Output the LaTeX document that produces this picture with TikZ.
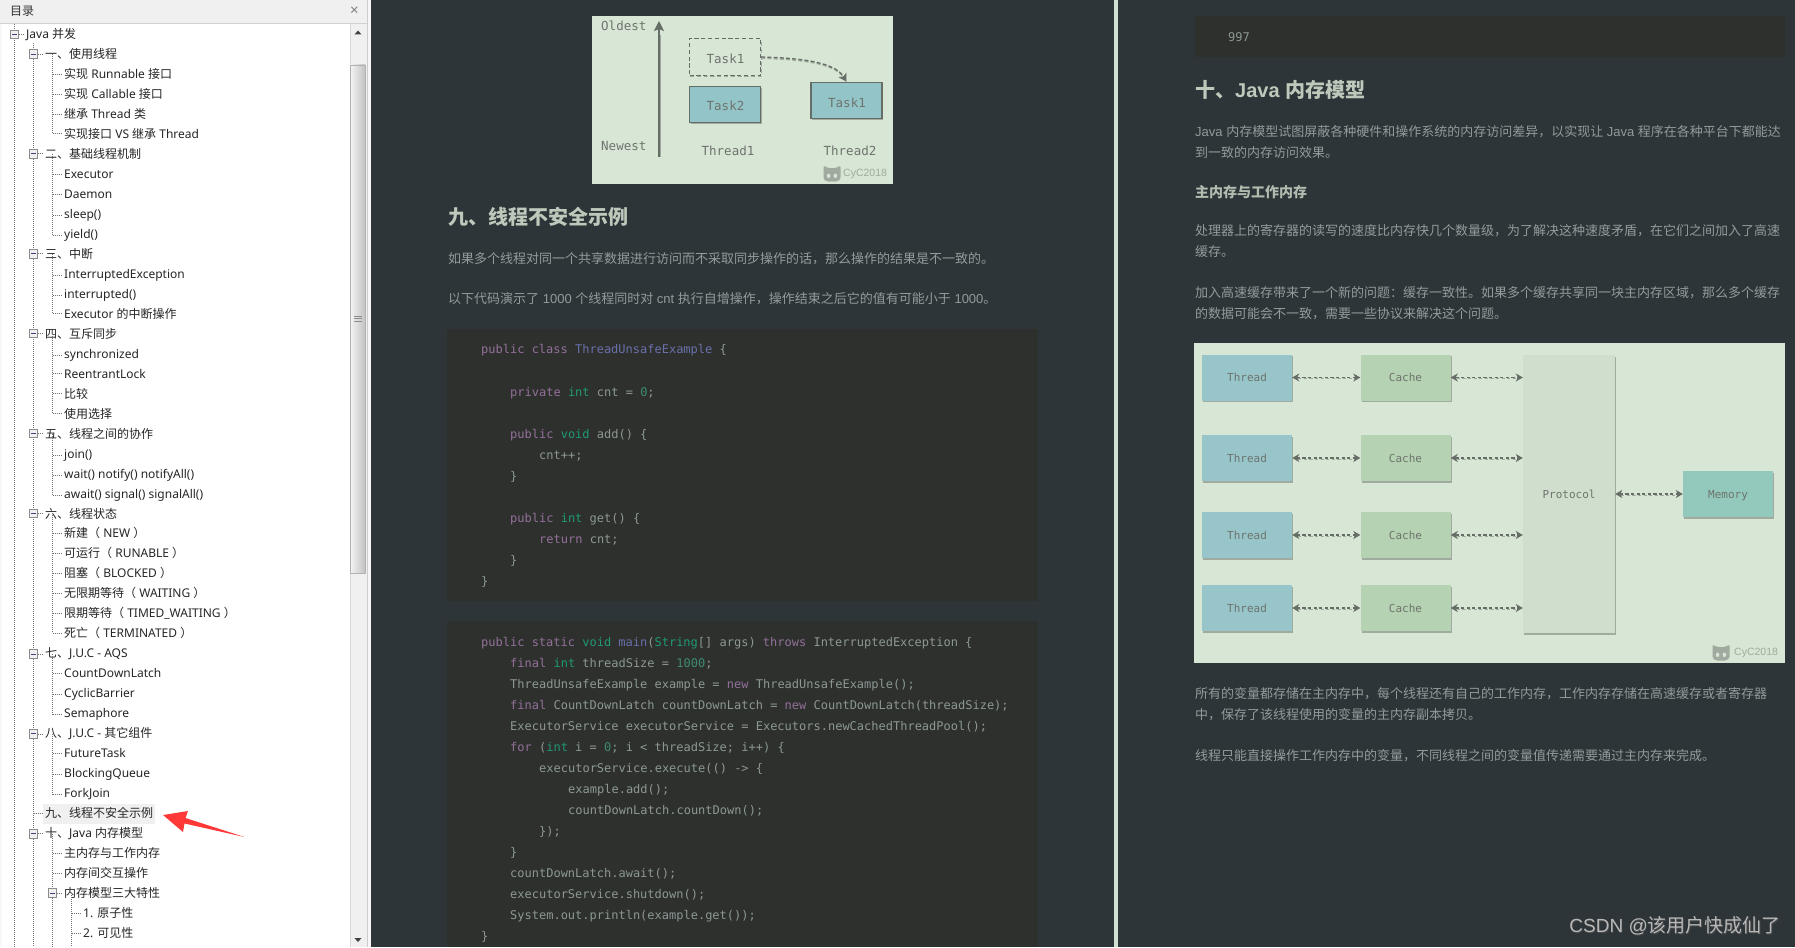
\documentclass[tikz,border=0pt]{standalone}
\usepackage{fontspec}
\usetikzlibrary{arrows.meta,shadows}
\setmainfont{Noto Sans}
\newfontfamily\cjk{Noto Sans CJK SC}
\newfontfamily\helv{Liberation Sans}
\newfontfamily\monof{DejaVu Sans Mono}
\newcommand\zh[1]{{\cjk #1}}
\definecolor{pagebg}{HTML}{2D3538}
\definecolor{codebg}{HTML}{2E302D}
\definecolor{paratx}{HTML}{929C9A}
\definecolor{headtx}{HTML}{BEC8BB}
\definecolor{subtx}{HTML}{B2BCAF}
\definecolor{imgbg}{HTML}{D8E6D6}
\definecolor{dividc}{HTML}{CFE2D2}
\definecolor{taskc}{HTML}{93C4C8}
\definecolor{threadc}{HTML}{97C5CA}
\definecolor{cachec}{HTML}{B5D2B2}
\definecolor{protoc}{HTML}{D0DECD}
\definecolor{memc}{HTML}{93C9BC}
\definecolor{shadc}{HTML}{A1AA9E}
\definecolor{dtext}{HTML}{6E746D}
\definecolor{dline}{HTML}{666C66}
\definecolor{ckw}{HTML}{93709A}
\definecolor{cty}{HTML}{1F9A74}
\definecolor{cnm}{HTML}{6A70AC}
\definecolor{cnu}{HTML}{3F8A72}
\definecolor{cdf}{HTML}{8C9894}
\newcommand\cK[1]{\textcolor{ckw}{#1}}
\newcommand\cT[1]{\textcolor{cty}{#1}}
\newcommand\cN[1]{\textcolor{cnm}{#1}}
\newcommand\cU[1]{\textcolor{cnu}{#1}}
\tikzset{
 tocrow/.style={anchor=mid west,yshift=-1.8pt,inner sep=0pt,text=black!85,font=\fontsize{12}{12}\selectfont},
 treeline/.style={draw=black!55,line width=.6pt,dash pattern=on 1pt off 1pt},
 exbox/.style={draw=black!45,fill=black!6,minimum size=8.5pt,inner sep=0pt,line width=.8pt},
 para/.style={anchor=mid west,yshift=-1.8pt,inner sep=0pt,text=paratx,font=\helv\fontsize{13}{13}\selectfont},
 head/.style={anchor=mid west,yshift=-4.4pt,inner sep=0pt,text=headtx,font=\helv\bfseries\fontsize{20}{20}\selectfont},
 subhead/.style={anchor=mid west,yshift=-3.2pt,inner sep=0pt,text=subtx,font=\cjk\bfseries\fontsize{14}{14}\selectfont},
 code/.style={anchor=mid west,yshift=-2.2pt,inner sep=0pt,text=cdf,font=\monof\fontsize{12}{12}\selectfont},
 dlabel/.style={inner sep=0pt,text=dtext,text height=10pt,text depth=1.5pt,font=\monof\fontsize{12.5}{12.5}\selectfont},
 cyc/.style={anchor=mid west,inner sep=0pt,text=shadc,font=\helv\fontsize{10.5}{10.5}\selectfont},
 flatbox/.style={inner sep=0pt,text=dtext,text height=10pt,text depth=1.8pt,font=\monof\fontsize{11}{11}\selectfont,drop shadow={shadow xshift=1.2pt,shadow yshift=-1.6pt,fill=shadc,opacity=1}},
 threadbox/.style={flatbox,fill=threadc,minimum width=90pt,minimum height=46pt},
 cachebox/.style={flatbox,fill=cachec,minimum width=90pt,minimum height=46pt},
 protobox/.style={flatbox,fill=protoc,minimum width=92pt,minimum height=278pt},
 membox/.style={flatbox,fill=memc,minimum width=90pt,minimum height=46pt},
 taskbox/.style={fill=taskc,draw=dline,line width=1.5pt,minimum width=71pt,minimum height=36pt,inner sep=0pt,drop shadow={shadow xshift=1pt,shadow yshift=-1.5pt,fill=shadc,opacity=1}},
 dashbox/.style={draw=dline,line width=1.4pt,dash pattern=on 4.2pt off 2.6pt,minimum width=71pt,minimum height=37pt,inner sep=0pt},
 biarrow/.style={{Stealth[length=7pt,width=8pt,inset=2pt]}-{Stealth[length=7pt,width=8pt,inset=2pt]},draw=dline,line width=1.1pt,dash pattern=on 3.2pt off 2.4pt},
 biunder/.style={draw=shadc,line width=1.1pt,dash pattern=on 3.2pt off 2.4pt,shorten >=6pt,shorten <=6pt,transform canvas={yshift=-1.3pt}},
}
\newcommand\trow[4]{\node[tocrow] (t#1) at (#2,{34+19.98*#1}) {#4};\draw[treeline,shorten >=2pt] (#3,0 |- t#1.west) -- (t#1.west);}
\newcommand\expand[3]{\node[exbox] (#1) at (#2,0 |- #3.west) {};\draw[draw=blue!35!black!75,line width=.8pt] ([xshift=-2.5pt]#1.center) -- ([xshift=2.5pt]#1.center);}
\newcommand\cat[3]{\begin{scope}[shift={(#1,#2)}]\fill[#3,rounded corners=1.5pt] (-8.5,-8.5) -- (-4,-6) -- (4,-6) -- (8.5,-8.5) -- (8.5,5) -- (5.5,7.5) -- (-5.5,7.5) -- (-8.5,5) -- cycle;\fill[imgbg] (-3.4,1.8) circle[x radius=1.8,y radius=2.2] (3.4,1.8) circle[x radius=1.8,y radius=2.2];\end{scope}}
\begin{document}
\begin{tikzpicture}[x=1pt,y=-1pt]
\useasboundingbox (0,0) rectangle (1795,947);
\fill[pagebg] (0,0) rectangle (1795,947);
% table of contents panel
\fill[black!3] (0,0) rectangle (370.5,947);
\fill[white] (2,24) rectangle (350,947);
\fill[black!6] (0,0) rectangle (367,23);
\draw[black!18,line width=.8pt] (0,23.5) -- (367,23.5);
\fill[black!6] (350,24) rectangle (367,947);
\draw[black!14,line width=.6pt] (350,24) -- (350,947);
\draw[black!20,line width=.8pt] (367,0) -- (367,947);
\shade[left color=black!5,right color=black!24] (350.5,65) rectangle (365,573);
\draw[black!30,line width=.6pt] (350.5,65) rectangle (365,573);
\foreach \gy in {316,318.5,321} {\draw[black!45,line width=.6pt] (354,\gy) -- (362,\gy);}
\fill[black!75] (358,30.5) -- (361.5,34.5) -- (354.5,34.5) -- cycle;
\fill[black!75] (358,942) -- (361.5,938) -- (354.5,938) -- cycle;
\node[inner sep=0pt,text=black!80,font=\cjk\fontsize{12}{12}\selectfont] (toctitle) at (22,11.5) {目录};
\node[inner sep=0pt,text=black!50,font=\fontsize{15}{15}\selectfont] (tocclose) at (354.5,11) {×};
\fill[black!6] (43,804) rectangle (155,824);
% tree vertical lines
\draw[treeline] (14.5,24) -- (14.5,947);
\draw[treeline] (33.5,43) -- (33.5,947);
\trow{0}{26}{14.5}{Java \zh{并发}}
\trow{1}{45}{33.5}{\zh{一、使用线程}}
\trow{2}{64}{52.5}{\zh{实现} Runnable \zh{接口}}
\trow{3}{64}{52.5}{\zh{实现} Callable \zh{接口}}
\trow{4}{64}{52.5}{\zh{继承} Thread \zh{类}}
\trow{5}{64}{52.5}{\zh{实现接口} VS \zh{继承} Thread}
\trow{6}{45}{33.5}{\zh{二、基础线程机制}}
\trow{7}{64}{52.5}{Executor}
\trow{8}{64}{52.5}{Daemon}
\trow{9}{64}{52.5}{sleep()}
\trow{10}{64}{52.5}{yield()}
\trow{11}{45}{33.5}{\zh{三、中断}}
\trow{12}{64}{52.5}{InterruptedException}
\trow{13}{64}{52.5}{interrupted()}
\trow{14}{64}{52.5}{Executor \zh{的中断操作}}
\trow{15}{45}{33.5}{\zh{四、互斥同步}}
\trow{16}{64}{52.5}{synchronized}
\trow{17}{64}{52.5}{ReentrantLock}
\trow{18}{64}{52.5}{\zh{比较}}
\trow{19}{64}{52.5}{\zh{使用选择}}
\trow{20}{45}{33.5}{\zh{五、线程之间的协作}}
\trow{21}{64}{52.5}{join()}
\trow{22}{64}{52.5}{wait() notify() notifyAll()}
\trow{23}{64}{52.5}{await() signal() signalAll()}
\trow{24}{45}{33.5}{\zh{六、线程状态}}
\trow{25}{64}{52.5}{\zh{新建（} NEW \zh{）}}
\trow{26}{64}{52.5}{\zh{可运行（} RUNABLE \zh{）}}
\trow{27}{64}{52.5}{\zh{阻塞（} BLOCKED \zh{）}}
\trow{28}{64}{52.5}{\zh{无限期等待（} WAITING \zh{）}}
\trow{29}{64}{52.5}{\zh{限期等待（} TIMED\_WAITING \zh{）}}
\trow{30}{64}{52.5}{\zh{死亡（} TERMINATED \zh{）}}
\trow{31}{45}{33.5}{\zh{七、}J.U.C - AQS}
\trow{32}{64}{52.5}{CountDownLatch}
\trow{33}{64}{52.5}{CyclicBarrier}
\trow{34}{64}{52.5}{Semaphore}
\trow{35}{45}{33.5}{\zh{八、}J.U.C - \zh{其它组件}}
\trow{36}{64}{52.5}{FutureTask}
\trow{37}{64}{52.5}{BlockingQueue}
\trow{38}{64}{52.5}{ForkJoin}
\trow{39}{45}{33.5}{\zh{九、线程不安全示例}}
\trow{40}{45}{33.5}{\zh{十、}Java \zh{内存模型}}
\trow{41}{64}{52.5}{\zh{主内存与工作内存}}
\trow{42}{64}{52.5}{\zh{内存间交互操作}}
\trow{43}{64}{52.5}{\zh{内存模型三大特性}}
\trow{44}{83}{71.5}{1. \zh{原子性}}
\trow{45}{83}{71.5}{2. \zh{可见性}}
\foreach \a/\b in {1/5,6/10,11/14,15/19,20/23,24/30,31/34,35/38} {\draw[treeline] (52.5,0 |- t\a.west) -- (52.5,0 |- t\b.west);}
\draw[treeline] (52.5,0 |- t40.west) -- (52.5,947);
\draw[treeline] (71.5,0 |- t43.west) -- (71.5,947);
\expand{e0}{14.5}{t0}
\foreach \r in {1,6,11,15,20,24,31,35,40} {\expand{e\r}{33.5}{t\r}}
\expand{e43}{52.5}{t43}
\fill[red!78!white] (163,815) -- (188,811) -- (185.5,818) -- (244.5,837) -- (184.5,823.5) -- (183,832) -- cycle;
% divider
\fill[dividc] (1114,0) rectangle (1118,947);
% middle column: stack image
\fill[imgbg] (592,16) rectangle (893,184);
\node[dlabel,anchor=west] (oldest) at (601,26) {Oldest};
\node[dlabel,anchor=west] (newest) at (601,146) {Newest};
\coordinate (axisbot) at (659,157);
\coordinate (axistop) at (659,21);
\draw[draw=shadc,line width=2pt] (660,157) -- (660,35);
\draw[-{Stealth[length=10pt,width=10pt,inset=2pt]},draw=dline,line width=2pt] (axisbot) -- (axistop);
\draw[draw=shadc,line width=1.4pt,dash pattern=on 4.2pt off 2.6pt] (690,76.8) -- (761.5,76.8) -- (761.5,40);
\node[dashbox] (taskold) at (725,57) {};
\node[dlabel] at (725.5,59) {Task1};
\node[taskbox] (tasktwo) at (725,104.5) {};
\node[dlabel] at (725.5,106) {Task2};
\node[taskbox] (taskone) at (846.5,100.5) {};
\node[dlabel] at (847,103) {Task1};
\draw[draw=shadc,line width=1.3pt,dash pattern=on 4pt off 2.2pt,transform canvas={yshift=-1.3pt},shorten >=7pt] (taskold.east) .. controls (800,58) and (835,62) .. (taskone.north);
\draw[-{Stealth[length=8pt,width=9pt,inset=2pt]},draw=dline,line width=1.3pt,dash pattern=on 4pt off 2.2pt] (taskold.east) .. controls (800,58) and (835,62) .. (taskone.north);
\node[dlabel] (th1lab) at (728,151) {Thread1};
\node[dlabel] (th2lab) at (850,151) {Thread2};
\cat{832}{174}{shadc}
\node[cyc] (cyca) at (843,174) {CyC2018};
% middle column: text
\node[head,font=\cjk\bfseries\fontsize{20}{20}\selectfont] (h9) at (448,217) {九、线程不安全示例};
\node[para] (p1) at (448,259) {\zh{如果多个线程对同一个共享数据进行访问而不采取同步操作的话，那么操作的结果是不一致的。}};
\node[para] (p2) at (448,299) {\zh{以下代码演示了} 1000 \zh{个线程同时对} cnt \zh{执行自增操作，操作结束之后它的值有可能小于} 1000\zh{。}};
\fill[codebg] (447,329) rectangle (1038,601);
\node[code] (a1) at (481,349) {\cK{public class} \cN{ThreadUnsafeExample} \{};
\node[code] (a2) at (510,392) {\cK{private} \cT{int} cnt = \cU{0};};
\node[code] (a3) at (510,434) {\cK{public} \cT{void} add() \{};
\node[code] (a4) at (539,455) {cnt++;};
\node[code] (a5) at (510,476) {\}};
\node[code] (a6) at (510,518) {\cK{public} \cT{int} get() \{};
\node[code] (a7) at (539,539) {\cK{return} cnt;};
\node[code] (a8) at (510,560) {\}};
\node[code] (a9) at (481,581) {\}};
\fill[codebg] (447,621) rectangle (1038,947);
\node[code] (b1) at (481,642) {\cK{public static} \cT{void} \cN{main}(\cT{String}[] args) \cK{throws} InterruptedException \{};
\node[code] (b2) at (510,663) {\cK{final} \cT{int} threadSize = \cU{1000};};
\node[code] (b3) at (510,684) {ThreadUnsafeExample example = \cK{new} ThreadUnsafeExample();};
\node[code] (b4) at (510,705) {\cK{final} CountDownLatch countDownLatch = \cK{new} CountDownLatch(threadSize);};
\node[code] (b5) at (510,726) {ExecutorService executorService = Executors.newCachedThreadPool();};
\node[code] (b6) at (510,747) {\cK{for} (\cT{int} i = \cU{0}; i < threadSize; i++) \{};
\node[code] (b7) at (539,768) {executorService.execute(() -> \{};
\node[code] (b8) at (568,789) {example.add();};
\node[code] (b9) at (568,810) {countDownLatch.countDown();};
\node[code] (b10) at (539,831) {\});};
\node[code] (b11) at (510,852) {\}};
\node[code] (b12) at (510,873) {countDownLatch.await();};
\node[code] (b13) at (510,894) {executorService.shutdown();};
\node[code] (b14) at (510,915) {System.out.println(example.get());};
\node[code] (b15) at (481,936) {\}};
% right column: text
\fill[codebg] (1195,16) rectangle (1785,57);
\node[code] (c1) at (1228,37) {997};
\node[head] (h10) at (1195,90) {\zh{十、}Java \zh{内存模型}};
\node[para] (q1) at (1195,132) {Java \zh{内存模型试图屏蔽各种硬件和操作系统的内存访问差异，以实现让} Java \zh{程序在各种平台下都能达}};
\node[para] (q2) at (1195,153) {\zh{到一致的内存访问效果。}};
\node[subhead] (h11) at (1195,192) {主内存与工作内存};
\node[para] (q3) at (1195,231) {\zh{处理器上的寄存器的读写的速度比内存快几个数量级，为了解决这种速度矛盾，在它们之间加入了高速}};
\node[para] (q4) at (1195,252) {\zh{缓存。}};
\node[para] (q5) at (1195,293) {\zh{加入高速缓存带来了一个新的问题：缓存一致性。如果多个缓存共享同一块主内存区域，那么多个缓存}};
\node[para] (q6) at (1195,314) {\zh{的数据可能会不一致，需要一些协议来解决这个问题。}};
\node[para] (q7) at (1195,694) {\zh{所有的变量都存储在主内存中，每个线程还有自己的工作内存，工作内存存储在高速缓存或者寄存器}};
\node[para] (q8) at (1195,715) {\zh{中，保存了该线程使用的变量的主内存副本拷贝。}};
\node[para] (q9) at (1195,756) {\zh{线程只能直接操作工作内存中的变量，不同线程之间的变量值传递需要通过主内存来完成。}};
% right column: memory model
\fill[imgbg] (1194,343) rectangle (1785,663);
\foreach \i/\yy in {1/377.5,2/458,3/535,4/608} {
  \node[threadbox] (th\i) at (1247,\yy) {Thread};
  \node[cachebox] (ca\i) at (1405.5,\yy) {Cache};
}
\node[protobox] (pr) at (1569,494) {Protocol};
\node[membox] (me) at (1728,494) {Memory};
\foreach \i in {1,2,3,4} {
  \draw[biunder] (th\i.east) -- (ca\i.west);
  \draw[biarrow] (th\i.east) -- (ca\i.west);
  \draw[biunder] (ca\i.east) -- (ca\i.east -| pr.west);
  \draw[biarrow] (ca\i.east) -- (ca\i.east -| pr.west);
}
\draw[biunder] (pr.east |- me.west) -- (me.west);
\draw[biarrow] (pr.east |- me.west) -- (me.west);
\cat{1721}{653}{shadc}
\node[cyc] (cycb) at (1734,653) {CyC2018};
% watermark
\node[anchor=mid east,yshift=-3pt,inner sep=0pt,text=black!70,font=\helv\fontsize{19}{19}\selectfont] (wms) at (1781.7,928.2) {CSDN @\zh{该用户快成仙了}};
\node[anchor=mid east,yshift=-3pt,inner sep=0pt,text=white!72!black,font=\helv\fontsize{19}{19}\selectfont] (wm) at (1781,927) {CSDN @\zh{该用户快成仙了}};
\end{tikzpicture}
\end{document}
